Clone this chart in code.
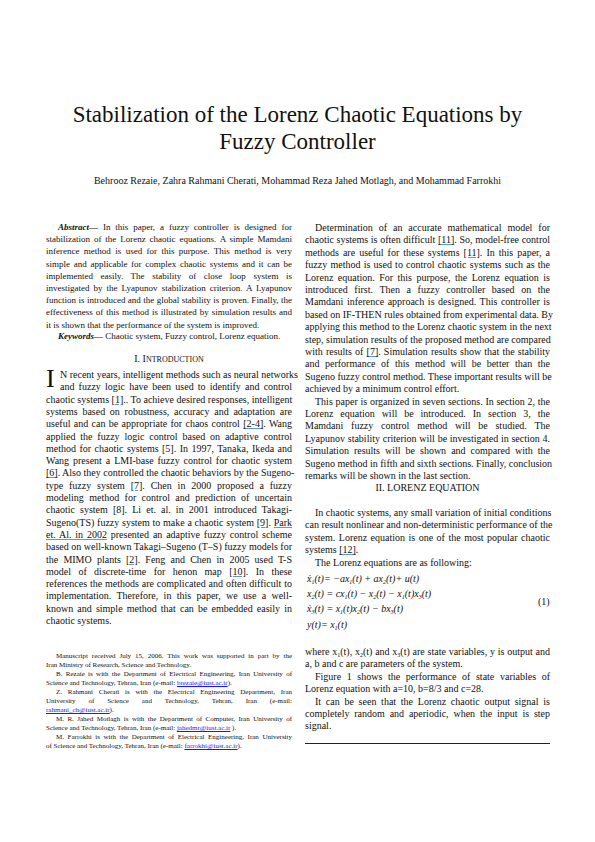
<!DOCTYPE html>
<html>
<head>
<meta charset="utf-8">
<script src="https://cdn.jsdelivr.net/npm/chart.js@4"></script>
<style>
  * { font-family: "Liberation Serif", "Times New Roman", Times, Tinos, "DejaVu Serif", serif; }
  body { margin: 0; width: 595px; height: 842px; background: #fff; position: relative; color: #111; overflow: hidden; }
  .ln { position: absolute; white-space: nowrap; text-align: justify; text-align-last: justify; }
  .ln.end { text-align-last: left; }
  .ctr { position: absolute; left: 0; width: 595px; text-align: center; white-space: nowrap; }
  u { text-decoration-color: #5b9bd5; text-underline-offset: 1px; }
  a { color: #1a1aff; text-decoration: underline; }
  .eq { position: absolute; font-style: italic; font-size: 10px; white-space: nowrap; }
  sub { font-size: 6px; vertical-align: -2px; }
</style>
</head>
<body>
<div class="ctr" style="top:102px;font-size:23px">Stabilization of the Lorenz Chaotic Equations by</div>
<div class="ctr" style="top:129px;font-size:23px">Fuzzy Controller</div>
<div class="ctr" style="top:175px;font-size:10px">Behrooz Rezaie, Zahra Rahmani Cherati, Mohammad Reza Jahed Motlagh, and Mohammad Farrokhi</div>

<div class="ctr" style="left:46px;width:246px;top:353px;font-size:10px">I. <span style="font-size:10px">I</span><span style="font-size:8px">NTRODUCTION</span></div>
<div class="ctr" style="left:305px;width:245px;top:482px;font-size:10px">II. LORENZ EQUATION</div>
<div style="position:absolute;left:46px;top:366px;font-size:26px;line-height:25px">I</div>
<div style="position:absolute;left:305px;top:743px;width:245px;border-top:1px solid #222"></div>

<div class="eq" style="left:307px;top:573px">ẋ<sub>1</sub>(t)= −ax<sub>1</sub>(t) + ax<sub>2</sub>(t)+ u(t)</div>
<div class="eq" style="left:307px;top:588px">x<sub>2</sub>(t) = cx<sub>1</sub>(t) − x<sub>2</sub>(t) − x<sub>1</sub>(t)x<sub>3</sub>(t)</div>
<div class="eq" style="left:307px;top:603px">ẋ<sub>3</sub>(t) = x<sub>1</sub>(t)x<sub>2</sub>(t) − bx<sub>3</sub>(t)</div>
<div class="eq" style="left:307px;top:619px">y(t)= x<sub>1</sub>(t)</div>
<div class="eq" style="left:538px;top:596px;font-style:normal">(1)</div>

<script>
// text blocks: "|" = last line of paragraph, ">" = indented first line
const abstractLines = [
  "><b><i>Abstract</i>—</b> In this paper, a fuzzy controller is designed for",
  "stabilization of the Lorenz chaotic equations. A simple Mamdani",
  "inference method is used for this purpose. This method is very",
  "simple and applicable for complex chaotic systems and it can be",
  "implemented easily. The stability of close loop system is",
  "investigated by the Lyapunov stabilization criterion. A Lyapunov",
  "function is introduced and the global stability is proven. Finally, the",
  "effectiveness of this method is illustrated by simulation results and",
  "|it is shown that the performance of the system is improved."
];
const keywordLines = ["|><b><i>Keywords</i>—</b> Chaotic system, Fuzzy control, Lorenz equation."];
const introLines = [
  "N recent years, intelligent methods such as neural networks",
  "and fuzzy logic have been used to identify and control",
  "chaotic systems <u>[1]</u>.. To achieve desired responses, intelligent",
  "systems based on robustness, accuracy and adaptation are",
  "useful and can be appropriate for chaos control <u>[2-4]</u>. Wang",
  "applied the fuzzy logic control based on adaptive control",
  "method for chaotic systems [5]. In 1997, Tanaka, Ikeda and",
  "Wang present a LMI-base fuzzy control for chaotic system",
  "<u>[6]</u>. Also they controlled the chaotic behaviors by the Sugeno-",
  "type fuzzy system <u>[7]</u>. Chen in 2000 proposed a fuzzy",
  "modeling method for control and prediction of uncertain",
  "chaotic system [8]. Li et. al. in 2001 introduced Takagi-",
  "Sugeno(TS) fuzzy system to make a chaotic system <u>[9]</u>. <u>Park</u>",
  "<u>et. Al. in 2002</u> presented an adaptive fuzzy control scheme",
  "based on well-known Takagi–Sugeno (T–S) fuzzy models for",
  "the MIMO plants <u>[2]</u>. Feng and Chen in 2005 used T-S",
  "model of discrete-time for henon map <u>[10]</u>. In these",
  "references the methods are complicated and often difficult to",
  "implementation. Therefore, in this paper, we use a well-",
  "known and simple method that can be embedded easily in",
  "|chaotic systems."
];
const footLines = [
  ">Manuscript received July 15, 2006. This work was supported in part by the",
  "|Iran Ministry of Research, Science and Technology.",
  ">B. Rezaie is with the Department of Electrical Engineering, Iran University of",
  "|Science and Technology, Tehran, Iran (e-mail: <a>brezaie@iust.ac.ir</a>).",
  ">Z. Rahmani Cherati is with the Electrical Engineering Department, Iran",
  "University of Science and Technology, Tehran, Iran (e-mail:",
  "|<a>rahmani_ch@iust.ac.ir</a>).",
  ">M. R. Jahed Motlagh is with the Department of Computer, Iran University of",
  "|Science and Technology, Tehran, Iran (e-mail: <a>jahedmr@iust.ac.ir</a> ).",
  ">M. Farrokhi is with the Department of Electrical Engineering, Iran University",
  "|of Science and Technology, Tehran, Iran (e-mail: <a>farrokhi@iust.ac.ir</a>)."
];
const rightLines = [
  ">Determination of an accurate mathematical model for",
  "chaotic systems is often difficult <u>[11]</u>. So, model-free control",
  "methods are useful for these systems <u>[11]</u>. In this paper, a",
  "fuzzy method is used to control chaotic systems such as the",
  "Lorenz equation. For this purpose, the Lorenz equation is",
  "introduced first. Then a fuzzy controller based on the",
  "Mamdani inference approach is designed. This controller is",
  "based on IF-THEN rules obtained from experimental data. By",
  "applying this method to the Lorenz chaotic system in the next",
  "step, simulation results of the proposed method are compared",
  "with results of <u>[7]</u>. Simulation results show that the stability",
  "and performance of this method will be better than the",
  "Sugeno fuzzy control method. These important results will be",
  "|achieved by a minimum control effort.",
  ">This paper is organized in seven sections. In section 2, the",
  "Lorenz equation will be introduced. In section 3, the",
  "Mamdani fuzzy control method will be studied. The",
  "Lyapunov stability criterion will be investigated in section 4.",
  "Simulation results will be shown and compared with the",
  "Sugeno method in fifth and sixth sections. Finally, conclusion",
  "|remarks will be shown in the last section."
];
const lorenzLines = [
  ">In chaotic systems, any small variation of initial conditions",
  "can result nonlinear and non-deterministic performance of the",
  "system. Lorenz equation is one of the most popular chaotic",
  "|systems <u>[12]</u>.",
  "|>The Lorenz equations are as following:"
];
const afterEqLines = [
  "where x<sub>1</sub>(t), x<sub>2</sub>(t) and x<sub>3</sub>(t) are state variables, y is output and",
  "|a, b and c are parameters of the system.",
  ">Figure 1 shows the performance of state variables of",
  "|Lorenz equation with a=10, b=8/3 and c=28.",
  ">It can be seen that the Lorenz chaotic output signal is",
  "completely random and aperiodic, when the input is step",
  "|signal."
];

function place(lines, x, y, w, lh, size, indent) {
  lines.forEach((raw, i) => {
    let s = raw, end = false, ind = 0;
    if (s[0] === "|") { end = true; s = s.slice(1); }
    if (s[0] === ">") { ind = indent; s = s.slice(1); }
    const d = document.createElement("div");
    d.className = "ln" + (end ? " end" : "");
    d.style.left = (x + ind) + "px";
    d.style.width = (w - ind) + "px";
    d.style.top = (y + i * lh) + "px";
    d.style.fontSize = size + "px";
    d.innerHTML = s;
    document.body.appendChild(d);
  });
}

place(abstractLines, 46, 222, 246, 12.2, 9, 12);
place(keywordLines, 46, 331, 246, 12, 9, 12);
place(introLines.slice(0, 2), 60, 369, 232, 12.3, 10, 0);
place(introLines.slice(2), 46, 369 + 2 * 12.3, 246, 12.3, 10, 0);
place(footLines, 46, 652, 246, 9, 7, 10);
place(rightLines, 305, 222, 245, 12.4, 10, 10);
place(lorenzLines, 305, 507, 245, 12.4, 10, 10);
place(afterEqLines, 305, 646, 245, 12.4, 10, 10);
</script>
</body>
</html>
